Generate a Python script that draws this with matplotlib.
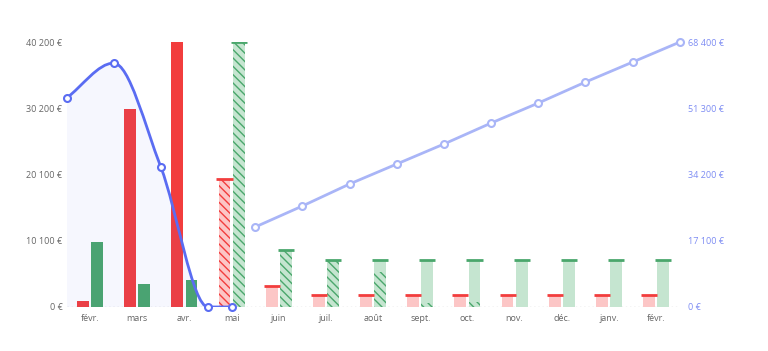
import numpy as np
import matplotlib.pyplot as plt
from matplotlib.path import Path
from matplotlib.patches import PathPatch

plt.rcParams['font.family'] = ['Open Sans', 'DejaVu Sans']
plt.rcParams['hatch.linewidth'] = 1.0

# mois affichés
months = ['févr.', 'mars', 'avr.', 'mai', 'juin', 'juil.', 'août', 'sept.',
          'oct.', 'nov.', 'déc.', 'janv.', 'févr.']

# mois passés (barres pleines)
past_red = [910, 30040, 40200]
past_green = [9900, 3440, 4100]

# mois en cours / à venir : prévu (barre claire + trait) et réalisé (hachuré)
plan_red = [19370, 3190, 1770, 1870, 1870, 1870, 1870, 1870, 1870, 1870]
done_red = [19370, 0, 0, 0, 0, 0, 0, 0, 0, 0]
plan_green = [40200, 8600, 7090, 7090, 7090, 7090, 7090, 7090, 7090, 7090]
done_green = [40200, 8600, 7090, 5350, 560, 800, 0, 0, 0, 0]

# trésorerie (axe de droite)
solde = [53940, 62980, 36130, 0, 0]
projection = [20650, 26070, 31750, 36910, 42070, 47490, 52650, 58070, 63230, 68400]

left_ticks = [0, 10050, 20100, 30150, 40200]
left_labels = ['0 €', '10 100 €', '20 100 €', '30 200 €', '40 200 €']
right_ticks = [0, 17100, 34200, 51300, 68400]
right_labels = ['0 €', '17 100 €', '34 200 €', '51 300 €', '68 400 €']

RED, PALE_RED = '#f23d3d', '#fcc6c6'
GREEN, PALE_GREEN = '#4aa76c', '#c5e5d0'
BLUE, LIGHT_BLUE = '#5a6cf2', '#a9b5f7'

n_past = len(past_red)
x_past = np.arange(n_past)
x_next = np.arange(n_past, len(months))
w, off, capw = 0.25, 0.15, 0.34

fig = plt.figure(figsize=(7.68, 3.51), dpi=100)
ax = fig.add_axes([0.0866, 0.1254, 0.7984, 0.7546])

ax.bar(x_past - off, past_red, w, color=RED, zorder=2)
ax.bar(x_past + off, past_green, w, color=GREEN, zorder=2)

ax.bar(x_next - off, plan_red, w, color=PALE_RED, zorder=2)
ax.bar(x_next + off, plan_green, w, color=PALE_GREEN, zorder=2)
ax.bar(x_next - off, done_red, w, color=PALE_RED, edgecolor=RED, hatch='\\\\\\\\',
       linewidth=0, zorder=3)
ax.bar(x_next + off, done_green, w, color=PALE_GREEN, edgecolor=GREEN, hatch='\\\\\\\\',
       linewidth=0, zorder=3)
ax.hlines(plan_red, x_next - off - capw / 2, x_next - off + capw / 2,
          color=RED, lw=2, zorder=4)
ax.hlines(plan_green, x_next + off - capw / 2, x_next + off + capw / 2,
          color=GREEN, lw=2, zorder=4)

ax.axhline(0, color='#c8c8c8', ls=(0, (1, 2)), lw=1, zorder=1)

ax.set_xlim(-0.5, len(months) - 0.5)
ax.set_ylim(0, 40200)
ax.set_xticks(np.arange(len(months)))
ax.set_xticklabels(months)
ax.set_yticks(left_ticks)
ax.set_yticklabels(left_labels)
ax.tick_params(axis='x', length=0, pad=5, labelsize=6.5, colors='#666666')
ax.tick_params(axis='y', length=0, pad=3, labelsize=6.5, colors='#666666')
for s in ax.spines.values():
    s.set_visible(False)

ax2 = ax.twinx()
ax2.set_ylim(0, 68400)
ax2.set_yticks(right_ticks)
ax2.set_yticklabels(right_labels)
ax2.tick_params(axis='y', length=0, pad=6, labelsize=6.5, colors='#7d8cf3')
for s in ax2.spines.values():
    s.set_visible(False)

# courbe lissée (monotone) du solde réel
sx = np.append(np.arange(n_past + 1) - 0.5, n_past)
sy = np.array(solde, dtype=float)
d = np.diff(sy) / np.diff(sx)
m = np.zeros_like(sy)
m[0], m[-1] = d[0], d[-1]
for k in range(1, len(sy) - 1):
    m[k] = 0 if d[k - 1] * d[k] <= 0 else (d[k - 1] + d[k]) / 2
for k in range(len(d)):
    if d[k] == 0:
        m[k] = m[k + 1] = 0
verts, codes = [(sx[0], sy[0])], [Path.MOVETO]
for k in range(len(d)):
    h = (sx[k + 1] - sx[k]) / 3
    verts += [(sx[k] + h, sy[k] + m[k] * h), (sx[k + 1] - h, sy[k + 1] - m[k + 1] * h),
              (sx[k + 1], sy[k + 1])]
    codes += [Path.CURVE4] * 3
curve = Path(verts, codes)
fill = Path(verts + [(sx[-1], 0), (sx[0], 0), (sx[0], sy[0])],
            codes + [Path.LINETO, Path.LINETO, Path.CLOSEPOLY])
ax2.add_patch(PathPatch(fill, facecolor=BLUE, alpha=0.05, lw=0, zorder=1))
ax2.add_patch(PathPatch(curve, facecolor='none', edgecolor=BLUE, lw=2, zorder=5))
ax2.plot(sx, sy, 'o', ms=5, mfc='white', mec=BLUE, mew=1.5, zorder=6, clip_on=False)

px = np.arange(n_past, len(months)) + 0.5
ax2.plot(px, projection, '-o', color=LIGHT_BLUE, lw=2, ms=5, mfc='white',
         mec=LIGHT_BLUE, mew=1.5, zorder=5, clip_on=False)

fig.savefig('out.png', dpi=100)
